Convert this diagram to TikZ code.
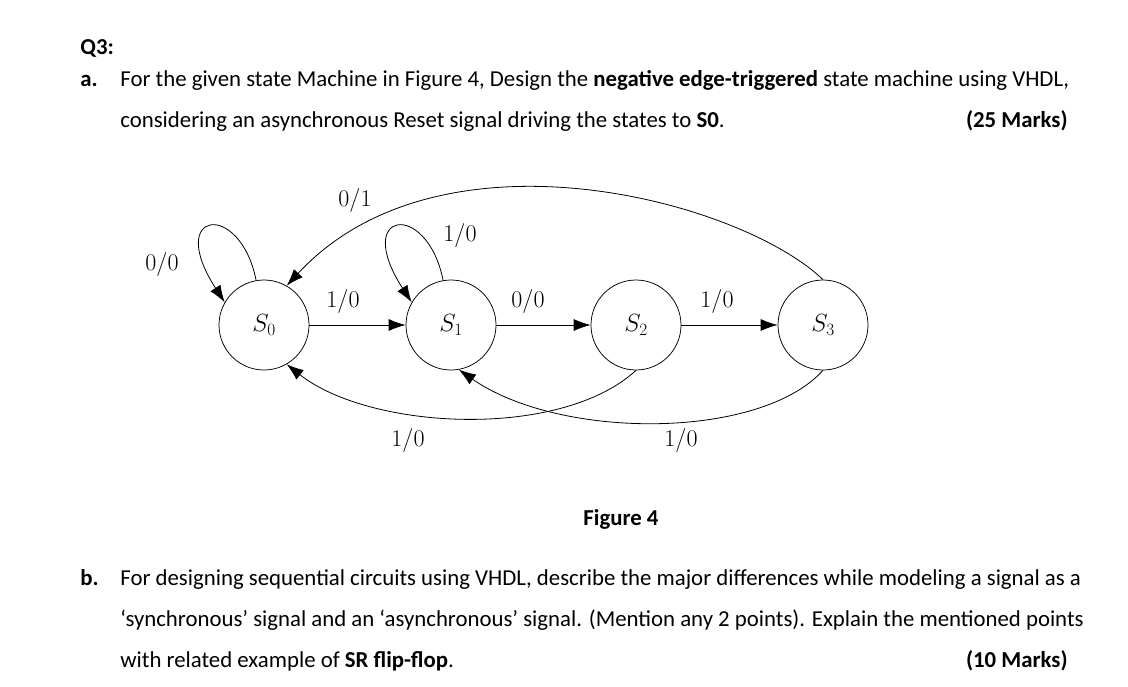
\documentclass[tikz,border=0pt]{standalone}
\usepackage{fontspec}
\setmainfont{Carlito}
\newfontfamily\lmfont{Latin Modern Roman}
\usetikzlibrary{arrows.meta}
\tikzset{every picture/.style={line width=0.75pt}}
\tikzset{state/.style={draw,circle,minimum size=90pt,inner sep=0pt,font=\fontsize{26}{28}\selectfont},
  trans/.style={-{Latex[length=17pt,width=12pt]},line width=0.8pt},
  lbl/.style={font=\lmfont\fontsize{24}{26}\selectfont,inner sep=0pt},
  txt/.style={anchor=base west,inner sep=0pt,font=\fontsize{22.8}{26}\selectfont}}

\begin{document}
\begin{tikzpicture}[x=1pt,y=-1pt]
\useasboundingbox (0,0) rectangle (1128,686);

% header text
\node[txt] (q) at (80,54) {\textbf{Q3:}};
\node[txt] (a) at (80,86) {\textbf{a.}};
\node[txt] (a1) at (120,86) {For the given state Machine in Figure 4, Design the \textbf{negative edge-triggered} state machine using VHDL,};
\node[txt] (a2) at (120,127) {considering an asynchronous Reset signal driving the states to \textbf{S0}.};
\node[txt,anchor=base east] (m1) at (1068,127) {\textbf{(25 Marks)}};

% states
\node[state] (S0) at (264,325) {$S_0$};
\node[state] (S1) at (451,325) {$S_1$};
\node[state] (S2) at (636,325) {$S_2$};
\node[state] (S3) at (823,325) {$S_3$};

% transitions
\draw[trans] (S0) -- (S1);
\draw[trans] (S1) -- (S2);
\draw[trans] (S2) -- (S3);
\draw[trans] (S0.100) .. controls (240,200) and (165,210) .. (S0.150);
\draw[trans] (S1.100) .. controls (427,200) and (352,210) .. (S1.150);
\draw[trans] (S3.north) .. controls (740,200) and (440,120) .. (S0.60);
\draw[trans] (S2.south) .. controls (560,440) and (370,430) .. (S0.-60);
\draw[trans] (S3.south) .. controls (760,440) and (560,440) .. (S1.-80);

% labels
\node[lbl] (l1) at (355,200) {0/1};
\node[lbl] (l2) at (162,264) {0/0};
\node[lbl] (l3) at (460,235) {1/0};
\node[lbl] (l4) at (343,301) {1/0};
\node[lbl] (l5) at (528,301) {0/0};
\node[lbl] (l6) at (717,301) {1/0};
\node[lbl] (l7) at (408,440) {1/0};
\node[lbl] (l8) at (681,440) {1/0};

\node[txt,anchor=base] (fig) at (621,525) {\textbf{Figure 4}};

% part b
\node[txt] (b) at (80,585) {\textbf{b.}};
\node[txt] (b1) at (120,585) {For designing sequential circuits using VHDL, describe the major differences while modeling a signal as a};
\node[txt] (b2) at (120,626) {‘synchronous’ signal and an ‘asynchronous’ signal. (Mention any 2 points). Explain the mentioned points};
\node[txt] (b3) at (120,667) {with related example of \textbf{SR flip-flop}.};
\node[txt,anchor=base east] (m2) at (1068,667) {\textbf{(10 Marks)}};
\end{tikzpicture}
\end{document}
